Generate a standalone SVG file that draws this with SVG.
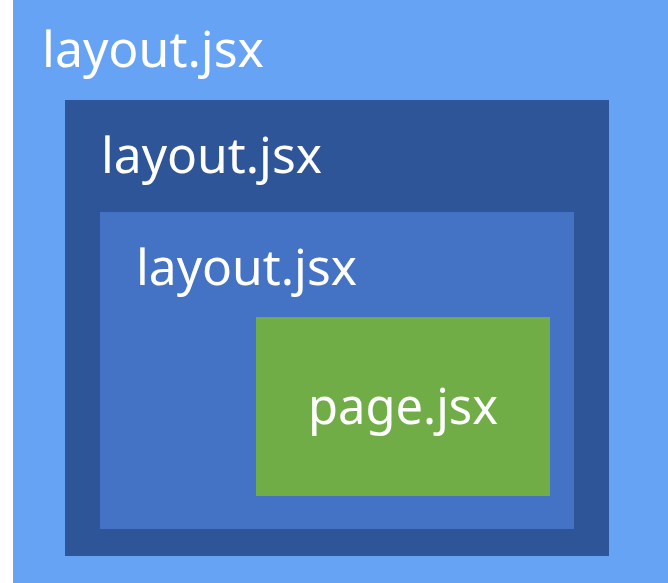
<svg xmlns="http://www.w3.org/2000/svg" width="668" height="583" viewBox="0 0 668 583">
<style>
text{font-family:"Noto Sans","Open Sans","DejaVu Sans",sans-serif;font-size:50px;fill:#ffffff}
</style>
<rect width="668" height="583" fill="#ffffff"/>
<g id="layout-root">
<rect x="13" y="0" width="655" height="583" fill="#67A3F5"/>
<text x="42" y="67" textLength="222" lengthAdjust="spacingAndGlyphs">layout.jsx</text>
</g>
<g id="layout-2">
<rect x="65" y="100" width="544" height="456" fill="#2E5597"/>
<text x="101" y="173" textLength="221" lengthAdjust="spacingAndGlyphs">layout.jsx</text>
</g>
<g id="layout-3">
<rect x="100" y="212" width="474" height="317" fill="#4472C4"/>
<text x="136" y="285" textLength="221" lengthAdjust="spacingAndGlyphs">layout.jsx</text>
</g>
<g id="page">
<rect x="256" y="317" width="294" height="179" fill="#70AD47"/>
<text x="308" y="424" textLength="190" lengthAdjust="spacingAndGlyphs">page.jsx</text>
</g>
<g id="connectors"/>
</svg>
